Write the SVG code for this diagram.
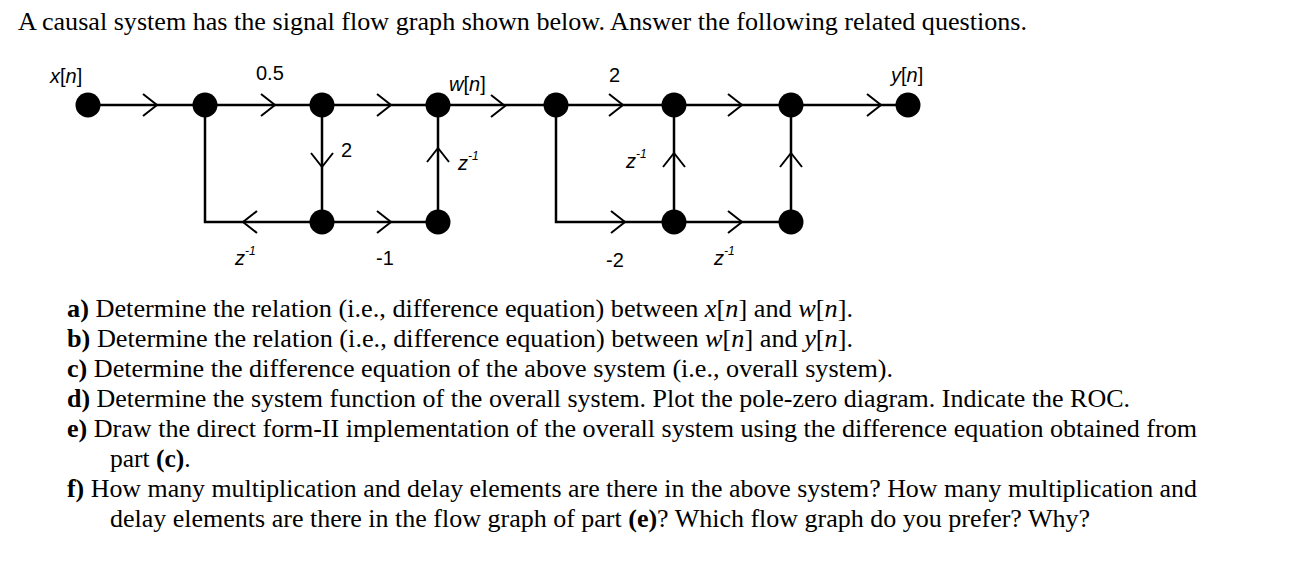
<svg xmlns="http://www.w3.org/2000/svg" width="1303" height="575" viewBox="0 0 1303 575">
<style>
.t{font-family:"Liberation Serif",serif;font-size:25.5px;fill:#000}
.s{font-family:"Liberation Sans",sans-serif;font-size:20px;fill:#000}
.e{stroke:#000;stroke-width:2.5;fill:none}
.a{stroke:#000;stroke-width:2;fill:none}
.n{fill:#000}
</style>
<defs>
<path id="ar" d="M-7,-11 L7,0 L-7,11" class="a"/>
</defs>
<rect width="1303" height="575" fill="#fff"/>
<text class="t" x="18" y="30" textLength="1009" lengthAdjust="spacingAndGlyphs">A causal system has the signal flow graph shown below. Answer the following related questions.</text>
<g id="connectors">
<path class="e" d="M88,105 H908"/>
<path class="e" d="M205,105 V222 H438 V105"/>
<path class="e" d="M322,105 V222"/>
<path class="e" d="M556,105 V222 H791 V105"/>
<path class="e" d="M674,105 V222"/>
<use href="#ar" x="150" y="105"/>
<use href="#ar" x="268" y="105"/>
<use href="#ar" x="384" y="105"/>
<use href="#ar" x="498" y="106"/>
<use href="#ar" x="616" y="105"/>
<use href="#ar" x="735" y="105"/>
<use href="#ar" x="874" y="105"/>
<use href="#ar" transform="translate(322,160) rotate(90)"/>
<use href="#ar" transform="translate(438,155) rotate(-90)"/>
<use href="#ar" transform="translate(674,160) rotate(-90)"/>
<use href="#ar" transform="translate(791,160) rotate(-90)"/>
<use href="#ar" transform="translate(250,222) rotate(180)"/>
<use href="#ar" transform="translate(384,222)"/>
<use href="#ar" transform="translate(618,222)"/>
<use href="#ar" transform="translate(735,222)"/>
</g>
<g id="n1"><circle class="n" cx="88" cy="105" r="12.5"/></g>
<g id="n2"><circle class="n" cx="205" cy="105" r="12.5"/></g>
<g id="n3"><circle class="n" cx="322" cy="105" r="12.5"/></g>
<g id="n4"><circle class="n" cx="438" cy="105" r="12.5"/></g>
<g id="n5"><circle class="n" cx="556" cy="105" r="12.5"/></g>
<g id="n6"><circle class="n" cx="674" cy="105" r="12.5"/></g>
<g id="n7"><circle class="n" cx="791" cy="105" r="12.5"/></g>
<g id="n8"><circle class="n" cx="908" cy="105" r="12.5"/></g>
<g id="n9"><circle class="n" cx="322" cy="222" r="12.5"/></g>
<g id="n10"><circle class="n" cx="438" cy="222" r="12.5"/></g>
<g id="n11"><circle class="n" cx="674" cy="222" r="12.5"/></g>
<g id="n12"><circle class="n" cx="791" cy="222" r="12.5"/></g>
<g id="labels">
<text class="s" x="50" y="83"><tspan font-style="italic">x</tspan>[<tspan font-style="italic">n</tspan>]</text>
<text class="s" x="256" y="80">0.5</text>
<text class="s" x="449" y="91"><tspan font-style="italic">w</tspan>[<tspan font-style="italic">n</tspan>]</text>
<text class="s" x="609" y="82">2</text>
<text class="s" x="891" y="82"><tspan font-style="italic">y</tspan>[<tspan font-style="italic">n</tspan>]</text>
<text class="s" x="341" y="157">2</text>
<text class="s" x="458" y="170" font-style="italic">z<tspan font-size="12" dy="-10">-1</tspan></text>
<text class="s" x="626" y="168" font-style="italic">z<tspan font-size="12" dy="-10">-1</tspan></text>
<text class="s" x="235" y="265" font-style="italic">z<tspan font-size="12" dy="-10">-1</tspan></text>
<text class="s" x="376" y="265">-1</text>
<text class="s" x="606" y="267">-2</text>
<text class="s" x="714" y="265" font-style="italic">z<tspan font-size="12" dy="-10">-1</tspan></text>
</g>
<g class="t">
<text x="67" y="317" textLength="786" lengthAdjust="spacingAndGlyphs"><tspan font-weight="bold">a)</tspan> Determine the relation (i.e., difference equation) between <tspan font-style="italic">x</tspan>[<tspan font-style="italic">n</tspan>] and <tspan font-style="italic">w</tspan>[<tspan font-style="italic">n</tspan>].</text>
<text x="67" y="347" textLength="786" lengthAdjust="spacingAndGlyphs"><tspan font-weight="bold">b)</tspan> Determine the relation (i.e., difference equation) between <tspan font-style="italic">w</tspan>[<tspan font-style="italic">n</tspan>] and <tspan font-style="italic">y</tspan>[<tspan font-style="italic">n</tspan>].</text>
<text x="67" y="377" textLength="826" lengthAdjust="spacingAndGlyphs"><tspan font-weight="bold">c)</tspan> Determine the difference equation of the above system (i.e., overall system).</text>
<text x="67" y="407" textLength="1063" lengthAdjust="spacingAndGlyphs"><tspan font-weight="bold">d)</tspan> Determine the system function of the overall system. Plot the pole-zero diagram. Indicate the ROC.</text>
<text x="67" y="437" textLength="1130" lengthAdjust="spacingAndGlyphs"><tspan font-weight="bold">e)</tspan> Draw the direct form-II implementation of the overall system using the difference equation obtained from</text>
<text x="110" y="467">part <tspan font-weight="bold">(c)</tspan>.</text>
<text x="67" y="497" textLength="1130" lengthAdjust="spacingAndGlyphs"><tspan font-weight="bold">f)</tspan> How many multiplication and delay elements are there in the above system? How many multiplication and</text>
<text x="110" y="527" textLength="980" lengthAdjust="spacingAndGlyphs">delay elements are there in the flow graph of part <tspan font-weight="bold">(e)</tspan>? Which flow graph do you prefer? Why?</text>
</g>
</svg>
